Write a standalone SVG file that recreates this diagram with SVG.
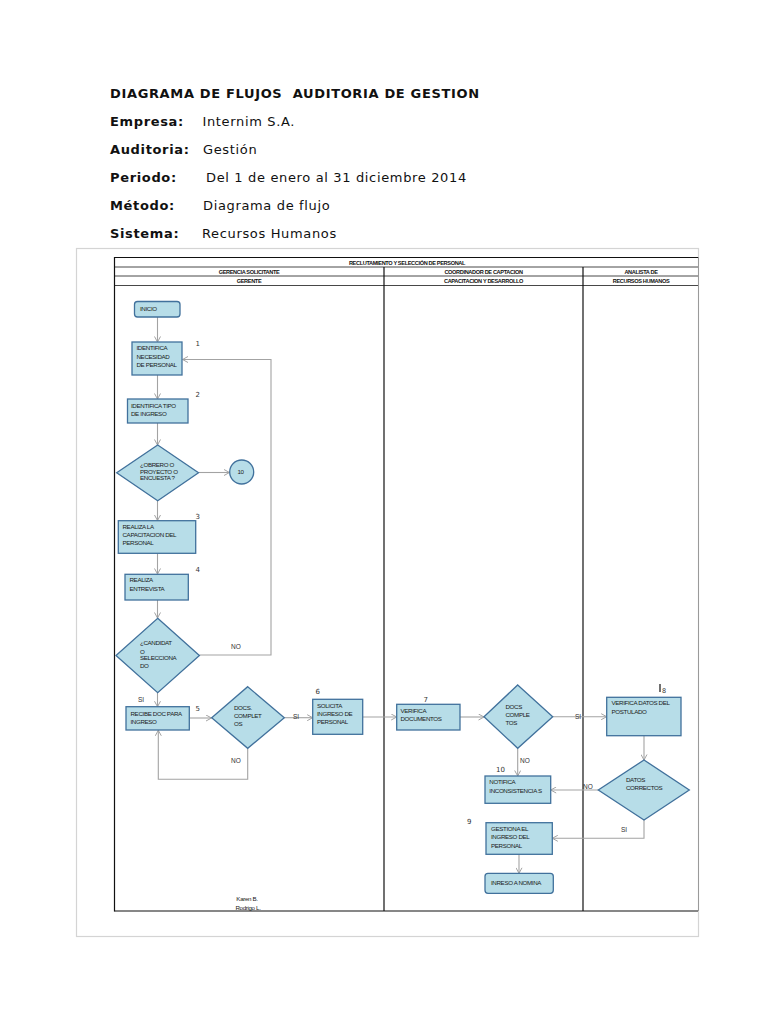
<svg xmlns="http://www.w3.org/2000/svg" width="768" height="1024" viewBox="0 0 768 1024">
<style>
.hdr{font-family:"DejaVu Sans","Liberation Sans",sans-serif;font-size:13px;letter-spacing:0.65px;fill:#111;white-space:pre}
.hb{font-weight:bold}
.node{fill:#b7dde8;stroke:#41719c;stroke-width:1.3}
.t{font-family:"Liberation Sans",Arial,sans-serif;font-size:6.2px;letter-spacing:-0.35px;fill:#1a1a1a}
.th{font-family:"Liberation Sans",Arial,sans-serif;font-size:5.6px;font-weight:bold;letter-spacing:-0.35px;fill:#111;text-anchor:middle}
.num{font-family:"DejaVu Sans",sans-serif;font-size:7px;fill:#333}
.lbl{font-family:"Liberation Sans",Arial,sans-serif;font-size:6.5px;fill:#333}
.conn{stroke:#a3a3a3;stroke-width:1.1;fill:none;marker-end:url(#arr)}
.tl{stroke:#111;stroke-width:1.2;fill:none}
.tl2{stroke:#333;stroke-width:0.9;fill:none}
</style>
<defs>
<marker id="arr" markerWidth="7" markerHeight="7" refX="6" refY="3.5" orient="auto" markerUnits="userSpaceOnUse">
<path d="M0.5,0.5 L6,3.5 L0.5,6.5" fill="none" stroke="#a3a3a3" stroke-width="1"/>
</marker>
</defs>
<rect width="768" height="1024" fill="#fff"/>
<g id="header">
<text class="hdr hb" x="110" y="98" xml:space="preserve">DIAGRAMA DE FLUJOS  AUDITORIA DE GESTION</text>
<text class="hdr hb" x="110" y="126">Empresa:</text><text class="hdr" x="202.5" y="126">Internim S.A.</text>
<text class="hdr hb" x="110" y="154">Auditoria:</text><text class="hdr" x="203" y="154">Gestión</text>
<text class="hdr hb" x="110" y="181.5">Periodo:</text><text class="hdr" x="206" y="181.5">Del 1 de enero al 31 diciembre 2014</text>
<text class="hdr hb" x="110" y="209.5">Método:</text><text class="hdr" x="203" y="209.5">Diagrama de flujo</text>
<text class="hdr hb" x="110" y="237.5">Sistema:</text><text class="hdr" x="202" y="237.5">Recursos Humanos</text>
</g>
<g id="frame">
<rect x="76.5" y="248.5" width="622" height="688" fill="#fff" stroke="#d4d4d4" stroke-width="1.2"/>
</g>
<g id="table">
<line class="tl" x1="114.5" y1="257.5" x2="698" y2="257.5"/>
<line class="tl2" x1="114.5" y1="267" x2="698" y2="267"/>
<line class="tl2" x1="114.5" y1="276" x2="698" y2="276"/>
<line class="tl2" x1="114.5" y1="285.5" x2="698" y2="285.5"/>
<line class="tl" x1="114.5" y1="911" x2="698" y2="911"/>
<line class="tl" x1="114.5" y1="257" x2="114.5" y2="911.5"/>
<line class="tl" x1="384" y1="267" x2="384" y2="911"/>
<line class="tl" x1="583" y1="267" x2="583" y2="911"/>
<line x1="698.5" y1="257" x2="698.5" y2="911" stroke="#9a9a9a" stroke-width="1"/>
<text class="th" x="407" y="264.5">RECLUTAMIENTO Y SELECCIÓN DE PERSONAL</text>
<text class="th" x="249" y="273.5">GERENCIA SOLICITANTE</text>
<text class="th" x="249" y="283">GERENTE</text>
<text class="th" x="483.5" y="273.5">COORDINADOR DE CAPTACION</text>
<text class="th" x="483.5" y="283">CAPACITACION Y DESARROLLO</text>
<text class="th" x="641" y="273.5">ANALISTA DE</text>
<text class="th" x="641" y="283">RECURSOS HUMANOS</text>
</g>
<g id="connectors">
<line class="conn" x1="157.5" y1="317" x2="157.5" y2="342"/>
<line class="conn" x1="157.5" y1="375" x2="157.5" y2="399"/>
<line class="conn" x1="157.5" y1="423" x2="157.5" y2="445"/>
<line class="conn" x1="198.3" y1="472.5" x2="229.5" y2="472.5"/>
<line class="conn" x1="157.5" y1="501" x2="157.5" y2="520.5"/>
<line class="conn" x1="157.5" y1="553.5" x2="157.5" y2="574"/>
<line class="conn" x1="157.5" y1="600" x2="157.5" y2="618"/>
<polyline class="conn" points="199.5,655 271,655 271,359.5 182.5,359.5"/>
<line class="conn" x1="157.5" y1="692.7" x2="157.5" y2="706.7"/>
<line class="conn" x1="189.3" y1="718" x2="211.5" y2="718"/>
<line class="conn" x1="284.3" y1="717.7" x2="312.7" y2="717.7"/>
<polyline class="conn" points="247.7,748.3 247.7,779.3 158.3,779.3 158.3,730.3"/>
<line class="conn" x1="362.7" y1="717" x2="396.7" y2="717"/>
<line class="conn" x1="460" y1="717" x2="484" y2="717"/>
<line class="conn" x1="552.7" y1="716.7" x2="606.7" y2="716.7"/>
<line class="conn" x1="644" y1="735.7" x2="644" y2="760"/>
<line class="conn" x1="517.7" y1="748.3" x2="517.7" y2="776"/>
<line class="conn" x1="598.3" y1="790" x2="550.7" y2="790"/>
<polyline class="conn" points="644,820 644,838.3 552.3,838.3"/>
<line class="conn" x1="519" y1="854.3" x2="519" y2="873.3"/>
<text class="lbl" x="231" y="649">NO</text>
<text class="lbl" x="138" y="701.5">SI</text>
<text class="lbl" x="231" y="762.5">NO</text>
<text class="lbl" x="293" y="719">SI</text>
<text class="lbl" x="575" y="719">SI</text>
<text class="lbl" x="520" y="762.5">NO</text>
<text class="lbl" x="583" y="789">NO</text>
<text class="lbl" x="621" y="832">SI</text>
</g>
<g id="inicio"><rect class="node" x="134.5" y="301.5" width="45.5" height="15.5" rx="3"/><text class="t" x="140" y="311.3">INICIO</text></g>
<g id="n1"><rect class="node" x="132" y="342" width="50" height="33"/><text class="t" x="136.5" y="350">IDENTIFICA</text><text class="t" x="136.5" y="358.5">NECESIDAD</text><text class="t" x="136.5" y="366.8">DE PERSONAL</text><text class="num" x="195.5" y="346">1</text></g>
<g id="n2"><rect class="node" x="127.5" y="399" width="60.5" height="24"/><text class="t" x="131" y="408">IDENTIFICA TIPO</text><text class="t" x="131" y="416.3">DE INGRESO</text><text class="num" x="195.5" y="397">2</text></g>
<g id="d1"><polygon class="node" points="157.7,445 198.5,472.8 157.7,500.7 116.7,472.8"/><text class="t" x="140" y="467">¿OBRERO O</text><text class="t" x="140" y="473.7">PROYECTO O</text><text class="t" x="140" y="480.3">ENCUESTA ?</text></g>
<g id="c10"><circle class="node" cx="241.7" cy="472" r="12"/><text class="t" x="237.5" y="474">10</text></g>
<g id="n3"><rect class="node" x="118.3" y="520.7" width="77.4" height="32.6"/><text class="t" x="122.5" y="528.8">REALIZA LA</text><text class="t" x="122.5" y="537.1">CAPACITACION DEL</text><text class="t" x="122.5" y="544.8">PERSONAL</text><text class="num" x="195.5" y="519">3</text></g>
<g id="n4"><rect class="node" x="125" y="574.3" width="63.3" height="25.7"/><text class="t" x="129.5" y="582">REALIZA</text><text class="t" x="129.5" y="591">ENTREVISTA</text><text class="num" x="195.5" y="572">4</text></g>
<g id="d2"><polygon class="node" points="157.7,618.3 199.4,655.5 157.7,692.7 116,655.5"/><text class="t" x="140" y="645.3">¿CANDIDAT</text><text class="t" x="140" y="653.7">O</text><text class="t" x="140" y="660.3">SELECCIONA</text><text class="t" x="140" y="667.7">DO</text></g>
<g id="n5"><rect class="node" x="126" y="706.7" width="63.3" height="23.3"/><text class="t" x="130.5" y="715.5">RECIBE DOC PARA</text><text class="t" x="130.5" y="723.8">INGRESO</text><text class="num" x="195.5" y="710.5">5</text></g>
<g id="d3"><polygon class="node" points="247.7,686.7 284.3,717.7 247.7,748.3 211.7,717.7"/><text class="t" x="234" y="710.3">DOCS.</text><text class="t" x="234" y="718">COMPLET</text><text class="t" x="234" y="726">OS</text></g>
<g id="n6"><rect class="node" x="312.7" y="699.3" width="50" height="35"/><text class="t" x="317" y="708">SOLICITA</text><text class="t" x="317" y="716.3">INGRESO DE</text><text class="t" x="317" y="724.3">PERSONAL</text><text class="num" x="315.5" y="693.5">6</text></g>
<g id="n7"><rect class="node" x="396.7" y="704.3" width="63.3" height="25.7"/><text class="t" x="400.5" y="712.7">VERIFICA</text><text class="t" x="400.5" y="721">DOCUMENTOS</text><text class="num" x="423.5" y="701.5">7</text></g>
<g id="d4"><polygon class="node" points="517.7,685 552.7,716.7 517.7,748.3 484,716.7"/><text class="t" x="505.5" y="708.7">DOCS</text><text class="t" x="505.5" y="717">COMPLE</text><text class="t" x="505.5" y="725.3">TOS</text></g>
<g id="n8"><rect class="node" x="606.7" y="697.3" width="74.3" height="38.4"/><text class="t" x="611.5" y="705.3">VERIFICA DATOS DEL</text><text class="t" x="611.5" y="714">POSTULADO</text><line x1="660" y1="684" x2="660" y2="692" stroke="#111" stroke-width="1.2"/><text class="num" x="662" y="692.5" style="font-size:6.5px">8</text></g>
<g id="d5"><polygon class="node" points="644,760 689.3,790 644,820 598.3,790"/><text class="t" x="626" y="782">DATOS</text><text class="t" x="626" y="790.3">CORRECTOS</text></g>
<g id="n10"><rect class="node" x="485" y="776" width="65.7" height="27.3"/><text class="t" x="489.3" y="784.3">NOTIFICA</text><text class="t" x="489.3" y="792.7">INCONSISTENCIA S</text><text class="num" x="496" y="771.5">10</text></g>
<g id="n9"><rect class="node" x="486" y="822.7" width="66.3" height="31.6"/><text class="t" x="491" y="831.3">GESTIONA EL</text><text class="t" x="491" y="839.3">INGRESO DEL</text><text class="t" x="491" y="847.7">PERSONAL</text><text class="num" x="467" y="823.5">9</text></g>
<g id="fin"><rect class="node" x="485" y="873.3" width="68.3" height="20" rx="3"/><text class="t" x="491" y="884.5">INRESO A NOMINA</text></g>
<g id="autores"><text class="t" x="247" y="901" text-anchor="middle">Karen B.</text><text class="t" x="248" y="910.3" text-anchor="middle">Rodrigo L.</text></g>
</svg>
